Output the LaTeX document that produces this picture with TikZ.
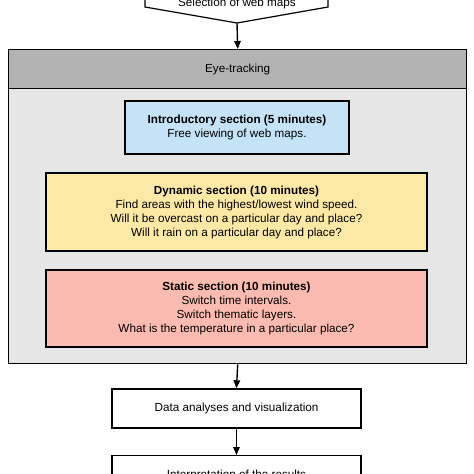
\documentclass[tikz,border=0pt]{standalone}
\usepackage{fontspec}
\setmainfont{Liberation Sans}
\usetikzlibrary{arrows.meta}
\definecolor{headgray}{HTML}{B3B3B3}
\definecolor{bodygray}{HTML}{E6E6E6}
\definecolor{introblue}{HTML}{C5E3F6}
\definecolor{dynyellow}{HTML}{FDE9A6}
\definecolor{statred}{HTML}{FCBBB0}
\begin{document}
\begin{tikzpicture}[x=1pt,y=-1pt,
  font=\fontsize{11.7}{14}\selectfont,
  box/.style={draw=black, line width=1.4pt, align=center, inner sep=0pt},
  arr/.style={-{Triangle[length=8pt,width=6.5pt]}, line width=1.4pt}]
\useasboundingbox (0,0) rectangle (474,474);
\clip (0,0) rectangle (474,474);
% selection shape
\draw[line width=1.2pt, fill=white] (145,-10) -- (145,7) -- (237,23) -- (328,7) -- (328,-10);
\node (sel) at (237,3) {Selection of web maps};
\coordinate (seltip) at (237,23);
% outer eye-tracking container
\node[box, fill=bodygray, minimum width=458pt, minimum height=314pt, anchor=north west] (outer) at (8,49) {};
\node[box, fill=headgray, minimum width=458pt, minimum height=39pt, anchor=north west] (header) at (8,49) {Eye-tracking};
\node[box, fill=introblue, minimum width=224pt, minimum height=53pt] (intro) at (237,127.5)
  {\textbf{Introductory section (5 minutes)}\\Free viewing of web maps.};
\node[box, fill=dynyellow, minimum width=381pt, minimum height=78pt] (dyn) at (236.5,212)
  {\textbf{Dynamic section (10 minutes)}\\Find areas with the highest/lowest wind speed.\\Will it be overcast on a particular day and place?\\Will it rain on a particular day and place?};
\node[box, fill=statred, minimum width=381pt, minimum height=77pt] (stat) at (236.5,308.5)
  {\textbf{Static section (10 minutes)}\\Switch time intervals.\\Switch thematic layers.\\What is the temperature in a particular place?};
\node[box, fill=white, minimum width=249pt, minimum height=39pt] (data) at (236.5,408.5)
  {Data analyses and visualization};
\node[box, fill=white, minimum width=249pt, minimum height=40pt, anchor=north] (interp) at (236.5,455)
  {Interpretation of the results};
\draw[arr] (seltip) -- (outer.north);
\draw[arr] (outer.south) -- (data.north);
\draw[arr] (data.south) -- (interp.north);
\end{tikzpicture}
\end{document}
